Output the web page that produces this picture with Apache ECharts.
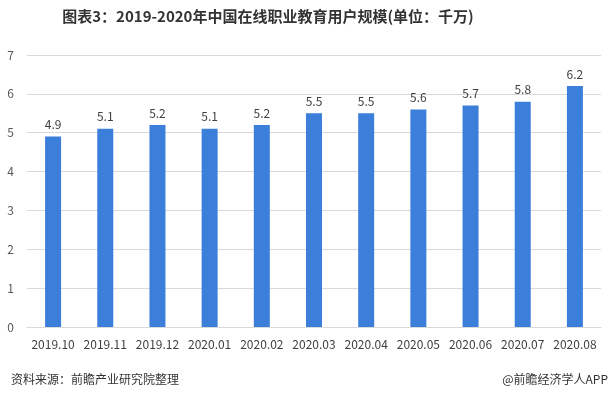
<!DOCTYPE html>
<html><head><meta charset="utf-8">
<script src="https://cdn.jsdelivr.net/npm/echarts@6/dist/echarts.min.js"></script>
<style>html,body{margin:0;padding:0;background:#fff}#c{width:616px;height:396px}</style>
</head><body><div id="c"></div>
<script>
const categories = ['2019.10','2019.11','2019.12','2020.01','2020.02','2020.03','2020.04','2020.05','2020.06','2020.07','2020.08'];
const values = [4.9,5.1,5.2,5.1,5.2,5.5,5.5,5.6,5.7,5.8,6.2];
const yTicks = [0,1,2,3,4,5,6,7];
const titleText = '图表3：2019-2020年中国在线职业教育用户规模(单位：千万)';
const sourceText = '资料来源：前瞻产业研究院整理';
const brandText = '@前瞻经济学人APP';

const chart = echarts.init(document.getElementById('c'));
const font = '"Microsoft YaHei","Noto Sans CJK SC",sans-serif';
chart.setOption({
  animation:false,
  title:[
    {text:titleText,left:263,textAlign:'center',top:4,textStyle:{fontSize:15,fontWeight:'bold',color:'#333',fontFamily:font}},
    {text:sourceText,left:6,top:368,textStyle:{fontSize:12,fontWeight:'normal',color:'#333',fontFamily:font}},
    {text:brandText,right:3,top:368,textStyle:{fontSize:12,fontWeight:'normal',color:'#333',fontFamily:font}}
  ],
  grid:{left:27,right:15,top:55,bottom:69,containLabel:false},
  xAxis:{type:'category',data:categories,axisTick:{show:false},
    axisLine:{lineStyle:{color:'#d9d9d9'}},
    axisLabel:{color:'#404040',fontSize:12,margin:11,interval:0,fontFamily:font}},
  yAxis:{type:'value',min:yTicks[0],max:yTicks[yTicks.length-1],interval:1,
    axisLine:{show:false},axisTick:{show:false},
    splitLine:{lineStyle:{color:'#d9d9d9'}},
    axisLabel:{color:'#595959',fontSize:12,margin:13,fontFamily:font}},
  series:[{type:'bar',data:values,barWidth:16,itemStyle:{color:'#3c7fda'},
    label:{show:true,position:'top',distance:6,color:'#404040',fontSize:12,fontFamily:font}}]
});
</script></body></html>
